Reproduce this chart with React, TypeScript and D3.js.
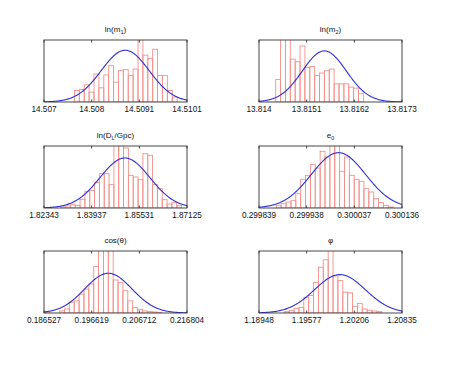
import React from 'react';
import * as d3 from 'd3';

// panel titles: main text, subscript, trailing text
const titles: [string, string, string][] = [
  ['ln(m', '1', ')'],
  ['ln(m', '2', ')'],
  ['ln(D', 'L', '/Gpc)'],
  ['e', '0', ''],
  ['cos(θ)', '', ''],
  ['φ', '', ''],
];

const domains: [number, number][] = [
  [14.507, 14.5101],
  [13.814, 13.8173],
  [1.82343, 1.87125],
  [0.299839, 0.300136],
  [0.186527, 0.216804],
  [1.18948, 1.20835],
];

const tickLabels: string[][] = [
  ['14.507', '14.508', '14.5091', '14.5101'],
  ['13.814', '13.8151', '13.8162', '13.8173'],
  ['1.82343', '1.83937', '1.85531', '1.87125'],
  ['0.299839', '0.299938', '0.300037', '0.300136'],
  ['0.186527', '0.196619', '0.206712', '0.216804'],
  ['1.18948', '1.19577', '1.20206', '1.20835'],
];

// histogram bins: first edge and bin width, in data units
const binStarts = [14.50766, 13.814385, 1.82903, 0.299875, 0.18674, 1.19282];
const binWidths = [0.000106, 0.0001124, 0.001616, 0.00001011, 0.001031, 0.000643];

const counts1 = [35, 38, 52, 30, 85, 43, 82, 110, 60, 95, 98, 80, 100, 200, 142, 132, 160, 80, 80, 35, 15];
const counts2 = [68, 200, 200, 130, 122, 170, 105, 108, 80, 88, 95, 100, 55, 55, 55, 45, 42, 25];
const counts3 = [6, 6, 10, 8, 26, 50, 53, 76, 103, 103, 70, 200, 200, 180, 98, 93, 85, 163, 158, 70, 58, 25, 12, 16, 8];
const counts4 = [8, 13, 18, 23, 43, 86, 98, 130, 120, 170, 153, 200, 200, 110, 153, 98, 86, 80, 58, 48, 28, 16, 8, 3];
const counts5 = [5, 0, 0, 6, 12, 32, 36, 56, 71, 86, 138, 200, 200, 200, 98, 90, 66, 36, 16, 11, 6, 4, 3, 2];
const counts6 = [4, 8, 14, 16, 46, 52, 90, 136, 158, 200, 110, 96, 62, 60, 20, 28, 12, 8, 6, 4];
const counts = [counts1, counts2, counts3, counts4, counts5, counts6];

const yMaxes = [188, 188, 186, 186, 184, 184];

// fitted normal curves
const fitMeans = [14.50876, 13.815508, 1.8505, 0.300004, 0.20015, 1.20016];
const fitSigmas = [0.00052, 0.000508, 0.00837, 0.0000564, 0.005, 0.00336];
const fitPeaks = [157, 155, 150, 166, 118, 114];

const colX = [44, 259];
const rowY = [40, 146, 251];
const boxW = 143;
const boxH = 62;
const font = '"Liberation Sans", Arial, sans-serif';

function Panel({ idx }: { idx: number }) {
  const left = colX[idx % 2];
  const top = rowY[Math.floor(idx / 2)];
  const [lo, hi] = domains[idx];
  const x = d3.scaleLinear().domain([lo, hi]).range([0, boxW]);
  const y = d3.scaleLinear().domain([0, yMaxes[idx]]).range([boxH, 0]);
  const tickVals = d3.range(4).map((k) => lo + (k * (hi - lo)) / 3);
  const mu = fitMeans[idx];
  const sd = fitSigmas[idx];
  const pk = fitPeaks[idx];
  const xs = d3.range(0, 201).map((k) => lo + (k * (hi - lo)) / 200);
  const line = d3
    .line<number>()
    .x((v) => x(v))
    .y((v) => y(pk * Math.exp(-((v - mu) ** 2) / (2 * sd * sd))));
  const clipId = `clip-${idx}`;
  const t = titles[idx];
  return (
    <g transform={`translate(${left},${top})`}>
      <defs>
        <clipPath id={clipId}>
          <rect x={0} y={0} width={boxW} height={boxH} />
        </clipPath>
      </defs>
      <g clipPath={`url(#${clipId})`}>
        {counts[idx].map((c, i) => {
          const x0 = x(binStarts[idx] + i * binWidths[idx]);
          const x1 = x(binStarts[idx] + (i + 1) * binWidths[idx]);
          return (
            <rect
              key={i}
              x={x0}
              y={y(c)}
              width={x1 - x0}
              height={y(0) - y(c)}
              fill="none"
              stroke="#f4908a"
              strokeWidth={0.9}
            />
          );
        })}
        <path d={line(xs) || ''} fill="none" stroke="#2f2fd8" strokeWidth={1.1} />
      </g>
      <rect x={0} y={0} width={boxW} height={boxH} fill="none" stroke="#333" strokeWidth={0.9} />
      {tickVals.map((v, k) => (
        <g key={k}>
          <line x1={x(v)} x2={x(v)} y1={0} y2={2.5} stroke="#333" strokeWidth={0.9} />
          <line x1={x(v)} x2={x(v)} y1={boxH} y2={boxH - 2.5} stroke="#333" strokeWidth={0.9} />
          <text
            x={x(v)}
            y={boxH + 10}
            textAnchor="middle"
            fontSize={8.2}
            fontFamily={font}
            fill="#111"
          >
            {tickLabels[idx][k]}
          </text>
        </g>
      ))}
      <text x={boxW / 2} y={-8} textAnchor="middle" fontSize={8} fontFamily={font} fill="#111">
        {t[0]}
        {t[1] && (
          <tspan fontSize={5.5} dy={2}>
            {t[1]}
          </tspan>
        )}
        {t[1] && <tspan dy={-2}>{t[2]}</tspan>}
      </text>
    </g>
  );
}

export default function App() {
  return (
    <svg
      width={474}
      height={366}
      style={{ position: 'absolute', left: 0, top: 0, background: '#fff' }}
    >
      {d3.range(6).map((i) => (
        <Panel key={i} idx={i} />
      ))}
    </svg>
  );
}
